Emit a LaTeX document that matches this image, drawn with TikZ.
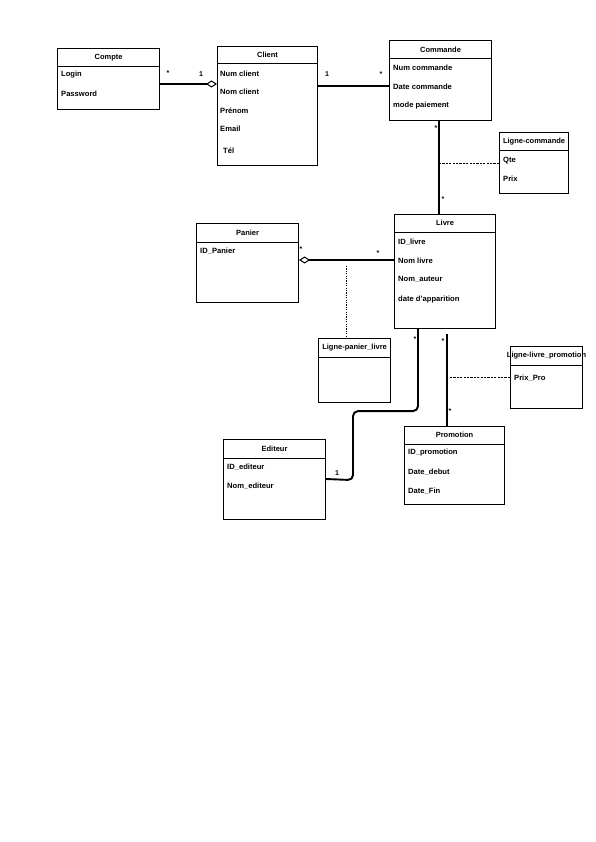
\documentclass[tikz,border=0pt]{standalone}
\usepackage{fontspec}
\setmainfont{Liberation Sans}
\usetikzlibrary{arrows.meta,calc}
\tikzset{
  classbox/.style={draw, line width=1.1pt, rectangle, inner sep=0pt, anchor=north west},
  ctitle/.style={font=\bfseries\fontsize{7.5}{8}\selectfont, inner sep=0pt},
  attr/.style={font=\bfseries\fontsize{7.6}{9}\selectfont, inner sep=0pt, anchor=west},
  mult/.style={font=\bfseries\fontsize{7}{8}\selectfont, inner sep=0pt},
  assoc/.style={line width=1.2pt},
  thickassoc/.style={line width=1.9pt},
  dashlink/.style={line width=0.9pt, dash pattern=on 2.2pt off 1.2pt},
  agg/.style={-{Diamond[open,length=11pt,width=7pt,line width=1pt]}},
}
\newcommand{\umlclass}[7]{% name, x, y, w, h, title, header height
  \node[classbox, minimum width=#4pt, minimum height=#5pt] (#1) at (#2,#3) {};
  \draw[line width=1pt] ($(#1.north west)+(0,#7)$) -- ($(#1.north east)+(0,#7)$);
  \node[ctitle] (#1-t) at ($(#1.north)+(0,#7/2)$) {#6};
}
\begin{document}
\begin{tikzpicture}[x=1pt,y=-1pt]
\useasboundingbox[fill=white] (0,0) rectangle (595,842);

% classes
\umlclass{compte}{57}{48}{102}{61}{Compte}{19}
\node[attr] (compte-a1) at (61,75) {Login};
\node[attr] (compte-a2) at (61,94) {Password};

\umlclass{client}{217}{46}{100}{119}{Client}{18}
\node[attr] (client-a1) at (220,74) {Num client};
\node[attr] (client-a2) at (220,92) {Nom client};
\node[attr] (client-a3) at (220,111) {Prénom};
\node[attr] (client-a4) at (220,129) {Email};
\node[attr] (client-a5) at (223,151) {Tél};

\umlclass{commande}{389}{40}{102}{80}{Commande}{19}
\node[attr] (commande-a1) at (393,68) {Num commande};
\node[attr] (commande-a2) at (393,87) {Date commande};
\node[attr] (commande-a3) at (393,106) {mode paiement};

\umlclass{lc}{499}{132}{69}{61}{Ligne-commande}{19}
\node[attr] (lc-a1) at (503,161) {Qte};
\node[attr] (lc-a2) at (503,179) {Prix};

\umlclass{panier}{196}{223}{102}{79}{Panier}{19}
\node[attr] (panier-a1) at (200,251) {ID\_Panier};

\umlclass{livre}{394}{214}{101}{114}{Livre}{18}
\node[attr] (livre-a1) at (398,242) {ID\_livre};
\node[attr] (livre-a2) at (398,261) {Nom livre};
\node[attr] (livre-a3) at (398,279) {Nom\_auteur};
\node[attr] (livre-a4) at (398,300) {date d'apparition};

\umlclass{lpl}{318}{338}{72}{64}{Ligne-panier\_livre}{19}

\umlclass{llp}{510}{346}{72}{62}{Ligne-livre\_promotion}{19}
\node[attr] (llp-a1) at (514,378) {Prix\_Pro};

\umlclass{editeur}{223}{439}{102}{80}{Editeur}{19}
\node[attr] (editeur-a1) at (227,467) {ID\_editeur};
\node[attr] (editeur-a2) at (227,486) {Nom\_editeur};

\umlclass{promo}{404}{426}{100}{78}{Promotion}{18}
\node[attr] (promo-a1) at (408,453) {ID\_promotion};
\node[attr] (promo-a2) at (408,472) {Date\_debut};
\node[attr] (promo-a3) at (408,491) {Date\_Fin};

% connectors
\draw[assoc, agg] ($(compte.north east)+(0,36)$) -- ($(client.north west)+(0,38)$);
\node[mult] (m1) at (168,73) {*};
\node[mult] (m2) at (201,74) {1};

\draw[assoc] ($(client.north east)+(0,40)$) -- ($(commande.north west)+(0,46)$);
\node[mult] (m3) at (327,74) {1};
\node[mult] (m4) at (381,74) {*};

\coordinate (cl) at ($(commande.south west)+(50,0)$);
\draw[thickassoc] (cl) -- (cl |- livre.north);
\node[mult] (m5) at (436,128) {*};
\node[mult] (m6) at (443,199) {*};
\draw[dashlink] (lc.west) -- (lc.west -| cl);

\draw[assoc, agg] ($(livre.north west)+(0,46)$) -- ($(panier.north east)+(0,37)$);
\node[mult] (m7) at (301,249) {*};
\node[mult] (m8) at (378,253) {*};
\coordinate (pl) at ($(lpl.north west)+(28,0)$);
\draw[line width=1pt, dash pattern=on 1.2pt off 1.2pt] (pl |- 0,266) -- (pl);

\coordinate (le) at ($(livre.south west)+(24,0)$);
\draw[thickassoc, rounded corners=5pt] (le) -- ($(le)+(0,82)$) -- ($(le)+(-65,82)$) -- ($(le)+(-65,151)$) -- ($(editeur.north east)+(0,40)$);
\node[mult] (m9) at (415,339) {*};
\node[mult] (m10) at (337,473) {1};

\coordinate (lp) at ($(livre.south west)+(53,5)$);
\draw[thickassoc] (lp) -- (lp |- promo.north);
\node[mult] (m11) at (443,341) {*};
\node[mult] (m12) at (450,411) {*};
\draw[dashlink] (llp.west) -- ($(llp.west -| lp)+(2,0)$);

\end{tikzpicture}
\end{document}
